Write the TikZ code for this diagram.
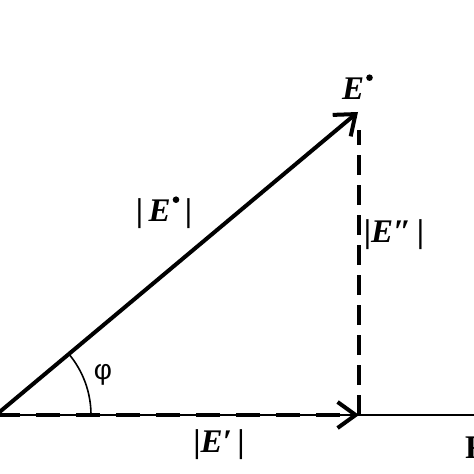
\documentclass[tikz,border=0pt]{standalone}
\usepackage{fontspec}
\setmainfont{Liberation Serif}
\newfontfamily\phifont{Liberation Sans}
\usetikzlibrary{arrows.meta}
\newcommand{\bigdot}{\raisebox{19pt}{\tikz\fill (0,0) circle (3.3pt);}}
\begin{document}
\begin{tikzpicture}[x=1pt,y=1pt,
  lbl/.style={font=\fontsize{33}{36}\selectfont\bfseries\itshape, inner sep=0pt},
  vec/.style={line width=4pt, -{Straight Barb[length=18pt,width=28pt,line width=4pt]}},
  axis/.style={line width=2.4pt},
  hdash/.style={line width=4pt, dash pattern=on 24pt off 16pt},
  vdash/.style={line width=3.5pt, dash pattern=on 20pt off 10pt},
  anglearc/.style={line width=1.6pt}]
\useasboundingbox (0,0) rectangle (474,474);
\coordinate (O) at (-4,59);
\coordinate (T) at (358,362);
\coordinate (F) at (359,59);
\coordinate (Ftop) at (359,344);
\coordinate (Rend) at (490,59);
% axis
\draw[axis] (O) -- (Rend);
\draw[hdash, -{Straight Barb[length=18pt,width=26pt,line width=4pt]}] (O) -- (F);
% vertical component
\draw[vdash] (F) -- (Ftop);
% resultant
\draw[vec] (O) -- (T);
% angle
\draw[anglearc] (91,59) arc[start angle=0, end angle=40, radius=95];
% labels
\node[lbl, anchor=base west] (Elbl) at (342,374) {E\kern2pt\bigdot};
\node[lbl, anchor=base] (Emod) at (164,252) {{\upshape|}\,E\kern2pt\bigdot\,{\upshape|}};
\node[lbl, anchor=base] (Eim) at (394,231) {{\upshape|}E{\upshape ″}\,{\upshape|}};
\node[lbl, anchor=base] (Ere) at (219,21) {{\upshape|}E′\,{\upshape|}};
\node[font=\phifont\fontsize{28}{30}\selectfont, inner sep=0pt] (phi) at (103,99) {φ};
\node[font=\fontsize{33}{36}\selectfont\bfseries, inner sep=0pt, anchor=base west] (Rlbl) at (465,16) {R};
\end{tikzpicture}
\end{document}
